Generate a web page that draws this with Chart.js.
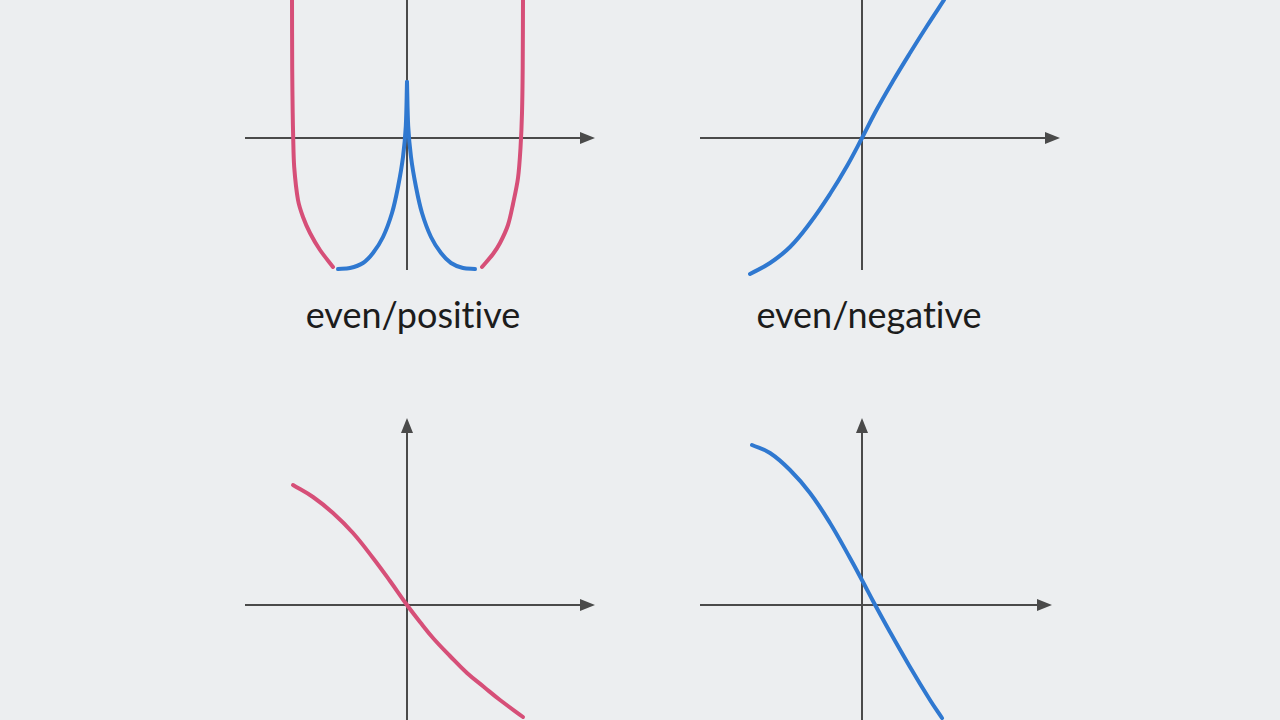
<!doctype html>
<html>

<head>
	<title>Even functions</title>
	<script src="https://cdn.jsdelivr.net/npm/chart.js@4.4.1/dist/chart.umd.min.js"></script>
	<style>
	html, body {
		margin: 0;
		padding: 0;
		background: #eceef0;
		width: 1280px;
		height: 720px;
		overflow: hidden;
		font-family: Lato, "Open Sans", sans-serif;
	}
	.panel {
		position: absolute;
	}
	.label {
		position: absolute;
		width: 400px;
		text-align: center;
		font-size: 36px;
		color: #1c1c1c;
		font-variant-ligatures: none;
		font-feature-settings: "liga" 0;
	}
	</style>
</head>

<body>
	<div class="panel" style="left:245px;top:0px;width:355px;height:280px;"><canvas id="c-tl"></canvas></div>
	<div class="panel" style="left:695px;top:0px;width:370px;height:280px;"><canvas id="c-tr"></canvas></div>
	<div class="panel" style="left:245px;top:410px;width:355px;height:310px;"><canvas id="c-bl"></canvas></div>
	<div class="panel" style="left:695px;top:410px;width:365px;height:310px;"><canvas id="c-br"></canvas></div>
	<div class="label" style="left:213px;top:292px;">even/positive</div>
	<div class="label" style="left:669px;top:292px;">even/negative</div>

	<script>
		var RED = '#d64f78';
		var BLUE = '#2f78d0';
		var AXIS = '#4a4a4a';

		// top left: red U-shaped branches and blue cusp
		var tlRedLeft = [
			{x: -1.15, y: 1.40}, {x: -1.148, y: 0.70}, {x: -1.143, y: 0.25}, {x: -1.138, y: 0},
			{x: -1.128, y: -0.29}, {x: -1.09, y: -0.62}, {x: -1.04, y: -0.79}, {x: -0.97, y: -0.95},
			{x: -0.87, y: -1.12}, {x: -0.74, y: -1.29}
		];
		var tlRedRight = [
			{x: 0.75, y: -1.29}, {x: 0.86, y: -1.16}, {x: 0.93, y: -1.05}, {x: 1.01, y: -0.87},
			{x: 1.06, y: -0.66}, {x: 1.11, y: -0.40}, {x: 1.135, y: -0.10}, {x: 1.15, y: 0.25},
			{x: 1.157, y: 0.70}, {x: 1.16, y: 1.40}
		];
		var tlBlueLeft = [
			{x: -0.69, y: -1.31}, {x: -0.57, y: -1.30}, {x: -0.44, y: -1.25}, {x: -0.34, y: -1.15},
			{x: -0.24, y: -0.99}, {x: -0.15, y: -0.75}, {x: -0.09, y: -0.49}, {x: -0.04, y: -0.19},
			{x: -0.012, y: 0.12}, {x: 0, y: 0.56}
		];
		var tlBlueRight = [
			{x: 0, y: 0.56}, {x: 0.012, y: 0.12}, {x: 0.04, y: -0.19}, {x: 0.09, y: -0.49},
			{x: 0.15, y: -0.75}, {x: 0.24, y: -0.99}, {x: 0.34, y: -1.15}, {x: 0.44, y: -1.25},
			{x: 0.56, y: -1.30}, {x: 0.68, y: -1.31}
		];

		// top right: rising blue curve
		var trBlue = [
			{x: -1.12, y: -1.36}, {x: -0.92, y: -1.25}, {x: -0.72, y: -1.09}, {x: -0.52, y: -0.85},
			{x: -0.32, y: -0.56}, {x: -0.15, y: -0.28}, {x: 0, y: 0}, {x: 0.15, y: 0.29},
			{x: 0.31, y: 0.57}, {x: 0.48, y: 0.85}, {x: 0.65, y: 1.12}, {x: 0.82, y: 1.38}
		];

		// bottom left: falling red curve
		var blRed = [
			{x: -1.14, y: 1.20}, {x: -0.94, y: 1.08}, {x: -0.74, y: 0.92}, {x: -0.54, y: 0.72},
			{x: -0.34, y: 0.47}, {x: -0.17, y: 0.24}, {x: 0, y: 0}, {x: 0.13, y: -0.17},
			{x: 0.26, y: -0.33}, {x: 0.43, y: -0.51}, {x: 0.60, y: -0.68}, {x: 0.77, y: -0.82},
			{x: 0.93, y: -0.95}, {x: 1.16, y: -1.12}
		];

		// bottom right: falling blue curve
		var brBlue = [
			{x: -1.10, y: 1.60}, {x: -0.92, y: 1.52}, {x: -0.72, y: 1.35}, {x: -0.52, y: 1.12},
			{x: -0.32, y: 0.82}, {x: -0.12, y: 0.47}, {x: 0.01, y: 0.23}, {x: 0.11, y: 0.04},
			{x: 0.28, y: -0.27}, {x: 0.48, y: -0.62}, {x: 0.68, y: -0.95}, {x: 0.80, y: -1.13}
		];

		// axis extents in data units, [start, end]
		var tlAxisX = [-1.62, 1.88], tlAxisY = [-1.32, 1.40];
		var trAxisX = [-1.62, 1.98], trAxisY = [-1.32, 1.40];
		var blAxisX = [-1.62, 1.88], blAxisY = [-1.15, 1.87];
		var brAxisX = [-1.62, 1.90], brAxisY = [-1.15, 1.87];

		function arrowHead(ctx, x, y, dir) {
			ctx.beginPath();
			if (dir === 'right') {
				ctx.moveTo(x, y);
				ctx.lineTo(x - 15, y - 6);
				ctx.lineTo(x - 15, y + 6);
			} else {
				ctx.moveTo(x, y);
				ctx.lineTo(x - 6, y + 15);
				ctx.lineTo(x + 6, y + 15);
			}
			ctx.closePath();
			ctx.fill();
		}

		var axesPlugin = {
			id: 'arrowAxes',
			beforeDatasetsDraw: function(chart, args, opts) {
				var ctx = chart.ctx;
				var xs = chart.scales.x, ys = chart.scales.y;
				var x0 = xs.getPixelForValue(0), y0 = ys.getPixelForValue(0);
				var xa = xs.getPixelForValue(opts.ax[0]), xb = xs.getPixelForValue(opts.ax[1]);
				var ya = ys.getPixelForValue(opts.ay[0]), yb = ys.getPixelForValue(opts.ay[1]);
				ctx.save();
				ctx.strokeStyle = AXIS;
				ctx.fillStyle = AXIS;
				ctx.lineWidth = 2;
				ctx.beginPath();
				ctx.moveTo(xa, y0);
				ctx.lineTo(xb - 10, y0);
				ctx.moveTo(x0, ya);
				ctx.lineTo(x0, opts.yArrow ? yb + 10 : yb);
				ctx.stroke();
				arrowHead(ctx, xb, y0, 'right');
				if (opts.yArrow) arrowHead(ctx, x0, yb, 'up');
				ctx.restore();
			}
		};

		function line(data, color, tension) {
			return {
				data: data,
				borderColor: color,
				borderWidth: 4,
				pointRadius: 0,
				tension: tension,
				fill: false,
				borderCapStyle: 'round',
				clip: false
			};
		}

		function makeChart(id, datasets, range, ax, ay, yArrow) {
			return new Chart(document.getElementById(id), {
				type: 'line',
				data: {datasets: datasets},
				options: {
					responsive: true,
					maintainAspectRatio: false,
					animation: false,
					layout: {padding: 0},
					plugins: {
						legend: {display: false},
						tooltip: {enabled: false},
						arrowAxes: {ax: ax, ay: ay, yArrow: yArrow}
					},
					scales: {
						x: {type: 'linear', min: range[0], max: range[1], display: false},
						y: {type: 'linear', min: range[2], max: range[3], display: false}
					}
				},
				plugins: [axesPlugin]
			});
		}

		makeChart('c-tl', [
			line(tlRedLeft, RED, 0.3), line(tlRedRight, RED, 0.3),
			line(tlBlueLeft, BLUE, 0.3), line(tlBlueRight, BLUE, 0.3)
		], [-1.62, 1.93, -1.42, 1.38], tlAxisX, tlAxisY, false);

		makeChart('c-tr', [line(trBlue, BLUE, 0.4)], [-1.67, 2.03, -1.42, 1.38], trAxisX, trAxisY, false);

		makeChart('c-bl', [line(blRed, RED, 0.4)], [-1.62, 1.93, -1.15, 1.95], blAxisX, blAxisY, true);

		makeChart('c-br', [line(brBlue, BLUE, 0.4)], [-1.67, 1.98, -1.15, 1.95], brAxisX, brAxisY, true);
	</script>
</body>

</html>
